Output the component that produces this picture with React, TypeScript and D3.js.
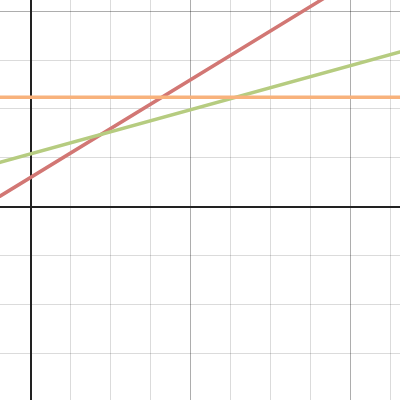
import React from "react";
import * as d3 from "d3";

const W = 400;
const H = 400;

// Graph window (data units)
const xDomain = [-0.7675, 9.2325];
const yDomain = [-3.956, 4.2304];

// Grid ticks
const xTicks = [1, 2, 3, 4, 5, 6, 7, 8, 9];
const yTicks = [-3, -2, -1, 1, 2, 3, 4];
const majorEvery = 4;

// Line series: y = slope * x + intercept
const seriesNames = ["red", "green", "orange"];
const slopes = [0.5, 0.226, 0];
const intercepts = [0.6, 1.08, 2.24];
const colors = ["#d27774", "#b6cc80", "#f8b27c"];

export default function App() {
  const x = d3.scaleLinear().domain(xDomain).range([0, W]);
  const y = d3.scaleLinear().domain(yDomain).range([H, 0]);

  const line = d3
    .line<[number, number]>()
    .x((d) => x(d[0]))
    .y((d) => y(d[1]));

  const isMajor = (v: number) => v % majorEvery === 0;

  return (
    <svg
      width={W}
      height={H}
      style={{ position: "absolute", left: 0, top: 0, background: "#fff" }}
    >
      <rect x={0} y={0} width={W} height={H} fill="#fff" />
      <g shapeRendering="crispEdges">
        {xTicks.map((t) => (
          <line
            key={"vx" + t}
            x1={x(t)}
            x2={x(t)}
            y1={0}
            y2={H}
            stroke="#000"
            strokeOpacity={isMajor(t) ? 0.32 : 0.14}
            strokeWidth={1}
          />
        ))}
        {yTicks.map((t) => (
          <line
            key={"hy" + t}
            y1={y(t)}
            y2={y(t)}
            x1={0}
            x2={W}
            stroke="#000"
            strokeOpacity={isMajor(t) ? 0.32 : 0.14}
            strokeWidth={1}
          />
        ))}
        <line x1={x(0)} x2={x(0)} y1={0} y2={H} stroke="#222" strokeWidth={2} />
        <line y1={y(0)} y2={y(0)} x1={0} x2={W} stroke="#222" strokeWidth={2} />
      </g>
      <g fill="none">
        {seriesNames.map((name, i) => {
          const pts: [number, number][] = xDomain.map((xv) => [
            xv,
            slopes[i] * xv + intercepts[i],
          ]);
          return (
            <path
              key={name}
              d={line(pts) || ""}
              stroke={colors[i]}
              strokeWidth={3.5}
              strokeLinecap="round"
            />
          );
        })}
      </g>
    </svg>
  );
}
